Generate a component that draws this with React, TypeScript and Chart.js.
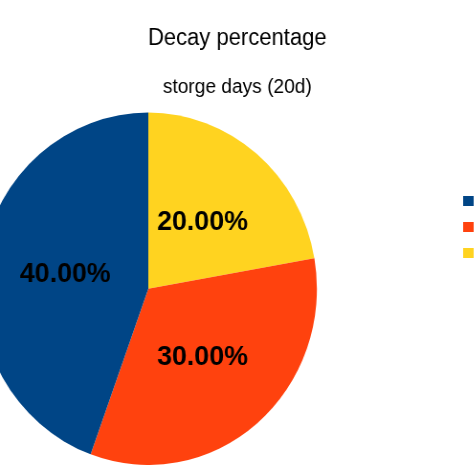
import React, { useEffect, useRef } from "react";
import { Chart, registerables } from "chart.js";

Chart.register(...registerables);

// Slices in clockwise order from the top
const categories = ["Slightly decayed fruit (20 days)", "Moderately decayed fruit (20 days)", "Severely decayed fruit (20 days)"];
const values = [20, 30, 40];
const colors = ["#ffd320", "#ff420e", "#004586"];
const titleText = "Decay percentage";
const subtitleText = "storge days (20d)";

const FONT = "'Liberation Sans', Arial, sans-serif";

const valueLabels = {
  id: "valueLabels",
  afterDatasetsDraw(chart: any) {
    const ctx = chart.ctx;
    const meta = chart.getDatasetMeta(0);
    const data = chart.data.datasets[0].data as number[];
    ctx.save();
    ctx.font = `bold 28px ${FONT}`;
    ctx.fillStyle = "#000000";
    ctx.textAlign = "center";
    ctx.textBaseline = "middle";
    meta.data.forEach((arc: any, i: number) => {
      const p = arc.tooltipPosition();
      ctx.fillText(data[i].toFixed(2) + "%", p.x, p.y + 1);
    });
    ctx.restore();
  },
};

export default function App() {
  const ref = useRef<HTMLCanvasElement | null>(null);

  useEffect(() => {
    if (!ref.current) return;
    const chart = new Chart(ref.current, {
      type: "pie",
      data: {
        labels: categories,
        datasets: [
          {
            data: values,
            backgroundColor: colors,
            borderWidth: 0,
          },
        ],
      },
      options: {
        responsive: false,
        animation: false,
        events: [],
        layout: { padding: 0 },
        plugins: {
          tooltip: { enabled: false },
          title: {
            display: true,
            text: titleText,
            color: "#000000",
            font: { family: FONT, size: 23, weight: "normal" },
            padding: { top: 36, bottom: 8 },
          },
          subtitle: {
            display: true,
            text: subtitleText,
            color: "#000000",
            font: { family: FONT, size: 20, weight: "normal" },
            padding: { top: 15, bottom: 13 },
          },
          legend: {
            display: true,
            position: "right",
            align: "center",
            reverse: true,
            maxWidth: 186,
            labels: {
              boxWidth: 11,
              boxHeight: 10,
              padding: 10,
              color: "#000000",
              font: { family: FONT, size: 16 },
            },
          },
        },
      },
      plugins: [valueLabels],
    });
    return () => chart.destroy();
  }, []);

  return (
    <div
      style={{
        position: "fixed",
        left: 0,
        top: 0,
        width: 474,
        height: 474,
        overflow: "hidden",
        background: "#ffffff",
      }}
    >
      <div
        style={{
          position: "absolute",
          left: -157.3,
          top: -11,
          width: 824,
          height: 476,
          transform: "scaleX(0.957)",
          transformOrigin: "0 0",
        }}
      >
        <canvas ref={ref} width={824} height={476} style={{ display: "block" }} />
      </div>
    </div>
  );
}
